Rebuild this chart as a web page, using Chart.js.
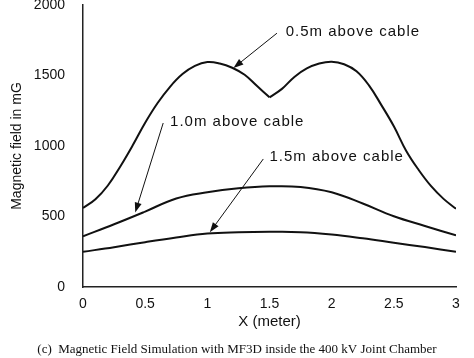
<!DOCTYPE html>
<html>
<head>
<meta charset="utf-8">
<script src="https://cdn.jsdelivr.net/npm/chart.js@4.4.1/dist/chart.umd.min.js"></script>
<style>
  html, body { margin: 0; padding: 0; background: #fff; }
  #wrap { width: 474px; height: 358px; }
</style>
</head>
<body>
<div id="wrap"><canvas id="fieldChart" width="474" height="358"></canvas></div>
<script>
// data (X in metres, field in mG)
const xTicks = [0, 0.5, 1, 1.5, 2, 2.5, 3];
const yTicks = [0, 500, 1000, 1500, 2000];

const x05 = [0, 0.1, 0.2, 0.3, 0.4, 0.5, 0.6, 0.7, 0.8, 0.9, 1.0, 1.1, 1.2, 1.3, 1.4, 1.5,
             1.6, 1.7, 1.8, 1.9, 2.0, 2.1, 2.2, 2.3, 2.4, 2.5, 2.6, 2.7, 2.8, 2.9, 3.0];
const y05 = [560, 622, 720, 855, 1005, 1165, 1305, 1420, 1510, 1568, 1595, 1585, 1555, 1505, 1425, 1345,
             1405, 1490, 1550, 1585, 1598, 1580, 1530, 1430, 1290, 1140, 965, 830, 715, 625, 555];

const x10 = [0, 0.25, 0.5, 0.75, 1.0, 1.25, 1.5, 1.75, 2.0, 2.25, 2.5, 2.75, 3.0];
const y10 = [360, 445, 535, 628, 672, 700, 714, 710, 672, 592, 502, 433, 366];

const x15 = [0, 0.25, 0.5, 0.75, 1.0, 1.25, 1.5, 1.75, 2.0, 2.25, 2.5, 2.75, 3.0];
const y15 = [250, 282, 318, 351, 379, 388, 391, 389, 372, 345, 314, 283, 250];

const seriesNames = ["0.5m above cable", "1.0m above cable", "1.5m above cable"];
const caption = "(c)  Magnetic Field Simulation with MF3D inside the 400 kV Joint Chamber";

const pts = (xs, ys) => xs.map((x, i) => ({ x, y: ys[i] }));

// the 0.5m curve has a sharp notch at x = 1.5, so draw it as two pieces meeting there
const dip = x05.indexOf(1.5);
const curve05 = pts(x05, y05);

const lineStyle = {
    borderColor: "#111",
    borderWidth: 2,
    pointRadius: 0,
    fill: false,
    tension: 0.4
};

// label text anchor, arrow tail and arrow tip, all in data units
const notes = [
    { text: seriesNames[0], at: [1.63, 1808], from: [1.56, 1800], to: [1.21, 1553] },
    { text: seriesNames[1], at: [0.70, 1170], from: [0.645, 1163], to: [0.42, 528] },
    { text: seriesNames[2], at: [1.50, 922], from: [1.45, 908], to: [1.02, 388] }
];

const notesPlugin = {
    id: "notes",
    afterDatasetsDraw(chart) {
        const { ctx, scales: { x, y } } = chart;
        ctx.save();
        ctx.fillStyle = "#111";
        ctx.strokeStyle = "#111";
        ctx.font = "15px 'Liberation Sans', Arial, sans-serif";
        ctx.letterSpacing = "1px";
        ctx.textBaseline = "middle";
        ctx.textAlign = "left";
        notes.forEach(n => {
            ctx.fillText(n.text, x.getPixelForValue(n.at[0]), y.getPixelForValue(n.at[1]));

            const x1 = x.getPixelForValue(n.from[0]), y1 = y.getPixelForValue(n.from[1]);
            const x2 = x.getPixelForValue(n.to[0]), y2 = y.getPixelForValue(n.to[1]);
            const a = Math.atan2(y2 - y1, x2 - x1);
            const len = 10, half = 3.5;
            ctx.lineWidth = 1;
            ctx.beginPath();
            ctx.moveTo(x1, y1);
            ctx.lineTo(x2 - Math.cos(a) * len * 0.8, y2 - Math.sin(a) * len * 0.8);
            ctx.stroke();
            ctx.beginPath();
            ctx.moveTo(x2, y2);
            ctx.lineTo(x2 - Math.cos(a) * len - Math.sin(a) * half, y2 - Math.sin(a) * len + Math.cos(a) * half);
            ctx.lineTo(x2 - Math.cos(a) * len + Math.sin(a) * half, y2 - Math.sin(a) * len - Math.cos(a) * half);
            ctx.closePath();
            ctx.fill();
        });

        ctx.letterSpacing = "0px";
        ctx.font = "13px 'Liberation Serif', 'Times New Roman', serif";
        ctx.textAlign = "center";
        ctx.fillText(caption, chart.width / 2, 350);
        ctx.restore();
    }
};

const plain = v => String(v);

new Chart(document.getElementById("fieldChart"), {
    type: "line",
    data: {
        datasets: [
            { label: seriesNames[0], data: curve05.slice(0, dip + 1), ...lineStyle },
            { label: seriesNames[0], data: curve05.slice(dip), ...lineStyle },
            { label: seriesNames[1], data: pts(x10, y10), ...lineStyle },
            { label: seriesNames[2], data: pts(x15, y15), ...lineStyle }
        ]
    },
    options: {
        responsive: false,
        animation: false,
        devicePixelRatio: 1,
        layout: { padding: { top: 5, right: 18, bottom: 20, left: 0 } },
        plugins: {
            legend: { display: false },
            tooltip: { enabled: false }
        },
        scales: {
            x: {
                type: "linear",
                min: xTicks[0],
                max: xTicks[xTicks.length - 1],
                afterBuildTicks: s => { s.ticks = xTicks.map(v => ({ value: v })); },
                afterFit: s => { s.height = 51; s.paddingLeft = 0; s.paddingRight = 0; },
                grid: { display: false },
                border: { display: true, color: "#222", width: 1.5 },
                ticks: {
                    color: "#111",
                    padding: 1,
                    maxRotation: 0,
                    callback: plain,
                    font: { family: "'Liberation Sans', Arial, sans-serif", size: 14 }
                },
                title: {
                    display: true,
                    text: "X (meter)",
                    color: "#111",
                    padding: { top: 0, bottom: 7 },
                    font: { family: "'Liberation Sans', Arial, sans-serif", size: 15 }
                }
            },
            y: {
                min: yTicks[0],
                max: yTicks[yTicks.length - 1],
                afterBuildTicks: s => { s.ticks = yTicks.map(v => ({ value: v })); },
                afterFit: s => { s.width = 83; s.paddingTop = 0; s.paddingBottom = 0; },
                grid: { display: false },
                border: { display: true, color: "#222", width: 1.5 },
                ticks: {
                    color: "#111",
                    padding: 10,
                    callback: plain,
                    font: { family: "'Liberation Sans', Arial, sans-serif", size: 14 }
                },
                title: {
                    display: true,
                    text: "Magnetic field in mG",
                    color: "#111",
                    padding: { top: 8.5, bottom: 0 },
                    font: { family: "'Liberation Sans', Arial, sans-serif", size: 14 }
                }
            }
        }
    },
    plugins: [notesPlugin]
});
</script>
</body>
</html>
